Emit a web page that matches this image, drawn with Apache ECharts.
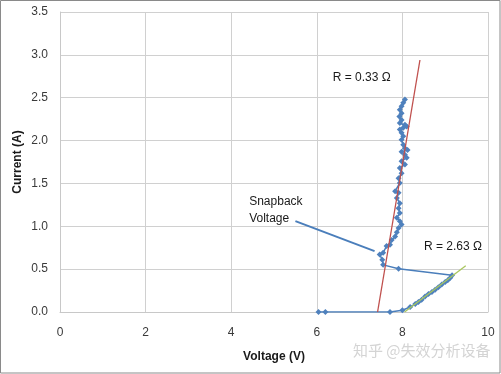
<!DOCTYPE html>
<html>
<head>
<meta charset="utf-8">
<script src="https://cdn.jsdelivr.net/npm/echarts@6/dist/echarts.min.js"></script>
<style>
html,body{margin:0;padding:0;background:#fff;}
#c{width:501px;height:374px;}
</style>
</head>
<body>
<div id="c"></div>
<script>
// Measured I-V curve (Voltage in V, Current in A)
const voltage = [6.04, 6.20, 7.71, 8.00, 8.18, 8.30, 8.375, 8.45, 8.53, 8.61, 8.69, 8.765, 8.84, 8.92, 9.00, 9.06, 9.12, 9.16,
  7.91, 7.55, 7.53, 7.47, 7.55, 7.63, 7.71, 7.75, 7.83, 7.87, 7.91, 7.98, 7.94, 7.87, 7.94, 7.91, 7.94, 7.87, 7.91, 7.83, 7.94,
  7.91, 7.98, 7.94, 8.06, 7.98, 8.10, 8.06, 7.98, 8.12, 8.06, 8.02, 7.98, 8.02, 7.98, 7.94, 8.02, 8.10, 8.06, 7.94, 7.98, 7.93,
  7.98, 7.94, 7.98, 8.02, 8.06];
const current = [0, 0, 0, 0.02, 0.058, 0.093, 0.117, 0.144, 0.182, 0.21, 0.233, 0.26, 0.29, 0.32, 0.35, 0.37, 0.40, 0.43,
  0.505, 0.55, 0.61, 0.67, 0.69, 0.77, 0.785, 0.84, 0.88, 0.93, 0.98, 1.02, 1.06, 1.10, 1.155, 1.21, 1.27, 1.33, 1.39, 1.41, 1.505,
  1.56, 1.62, 1.68, 1.72, 1.76, 1.80, 1.835, 1.87, 1.89, 1.91, 1.95, 2.01, 2.05, 2.09, 2.13, 2.15, 2.165, 2.185, 2.205, 2.24, 2.28,
  2.32, 2.36, 2.40, 2.44, 2.48];
// Linear fits
const fitLowX = [7.42, 8.41];   // R = 0.33 Ω
const fitLowY = [0, 2.94];
const fitHighX = [8.05, 9.48];  // R = 2.63 Ω
const fitHighY = [0, 0.54];
// Axis ticks
const xTicks = [0, 2, 4, 6, 8, 10];
const yTicks = [0, 0.5, 1.0, 1.5, 2.0, 2.5, 3.0, 3.5];
// Labels
const xName = 'Voltage (V)';
const yName = 'Current (A)';
const labelLow = 'R = 0.33 Ω';
const labelHigh = 'R = 2.63 Ω';
const labelSnap = ['Snapback', 'Voltage'];
const watermark = '知乎 @失效分析设备';

const zip = (a, b) => a.map((v, i) => [v, b[i]]);
const FONT = 'Liberation Sans';

const chart = echarts.init(document.getElementById('c'), null, {renderer: 'canvas'});
chart.setOption({
  animation: false,
  backgroundColor: '#fff',
  grid: {left: 60, right: 13, top: 12, bottom: 62, containLabel: false},
  xAxis: {
    type: 'value', min: xTicks[0], max: xTicks[xTicks.length - 1], interval: 2,
    name: xName, nameLocation: 'middle', nameGap: 39, nameMoveOverlap: false,
    nameTextStyle: {fontFamily: FONT, fontWeight: 'bold', fontSize: 12, color: '#1a1a1a'},
    axisLine: {show: true, lineStyle: {color: '#c8c8c8', width: 1}},
    axisTick: {show: false},
    axisLabel: {fontFamily: FONT, fontSize: 12, color: '#3a3a3a', margin: 15},
    splitLine: {show: true, lineStyle: {color: '#d0d0d0', width: 1}}
  },
  yAxis: {
    type: 'value', min: yTicks[0], max: yTicks[yTicks.length - 1], interval: 0.5,
    name: yName, nameLocation: 'middle', nameGap: 36, nameRotate: 90, nameMoveOverlap: false,
    nameTextStyle: {fontFamily: FONT, fontWeight: 'bold', fontSize: 12, color: '#1a1a1a'},
    axisLine: {show: true, lineStyle: {color: '#c8c8c8', width: 1}},
    axisTick: {show: false},
    axisLabel: {fontFamily: FONT, fontSize: 12, color: '#3a3a3a', margin: 12,
      formatter: v => v.toFixed(1)},
    splitLine: {show: true, lineStyle: {color: '#d0d0d0', width: 1}}
  },
  series: [
    {
      type: 'line', data: zip(voltage, current), z: 2,
      symbol: 'diamond', symbolSize: 6,
      itemStyle: {color: '#4F81BD'},
      lineStyle: {color: '#4A7EBB', width: 1.5},
      markLine: {
        silent: true, symbol: ['none', 'arrow'], symbolSize: [0, 10],
        label: {show: false},
        lineStyle: {color: '#4A7EBB', width: 2, type: 'solid'},
        data: [[{coord: [5.50, 1.06]}, {coord: [7.35, 0.71]}]]
      }
    },
    {
      type: 'line', data: zip(fitLowX, fitLowY), z: 3, symbol: 'none',
      lineStyle: {color: '#C0504D', width: 1.3}
    },
    {
      type: 'line', data: zip(fitHighX, fitHighY), z: 3, symbol: 'none',
      lineStyle: {color: '#A8C65E', width: 1.3}
    }
  ]
});

function px(x, y) { return chart.convertToPixel({gridIndex: 0}, [x, y]); }
const pLow = px(7.05, 2.73);
const pHigh = px(9.18, 0.76);
const pSnap1 = px(4.42, 1.29);
const pSnap2 = px(4.42, 1.09);
const txt = (p, s, align) => ({
  type: 'text', x: p[0], y: p[1], z: 10,
  style: {text: s, fontFamily: FONT, fontSize: 12, fill: '#1a1a1a', align: align, verticalAlign: 'middle'}
});
chart.setOption({
  graphic: [
    {type: 'rect', shape: {x: 0.5, y: 0.5, width: 499.5, height: 372.5},
      style: {fill: 'none', stroke: '#8a8a8a', lineWidth: 1}, z: 20},
    txt(pLow, labelLow, 'center'),
    txt(pHigh, labelHigh, 'center'),
    txt(pSnap1, labelSnap[0], 'left'),
    txt(pSnap2, labelSnap[1], 'left'),
    {type: 'text', x: 353, y: 350, z: 10,
      style: {text: watermark, fontFamily: 'Noto Sans CJK SC', fontSize: 15, fill: '#d4d4d4',
        align: 'left', verticalAlign: 'middle'}}
  ]
});
</script>
</body>
</html>
